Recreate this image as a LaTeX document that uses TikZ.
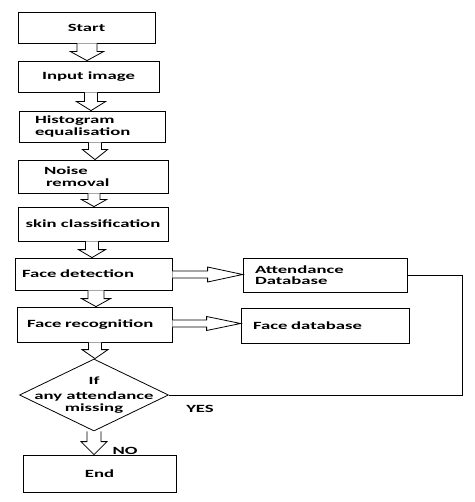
\documentclass[tikz,border=0pt]{standalone}
\usepackage{fontspec}
\newfontfamily\lbl{Carlito}[FakeStretch=1.7]
\usetikzlibrary{shapes.geometric,calc}
\tikzset{
  every node/.style={font=\lbl\bfseries\fontsize{11}{11.5}\selectfont, text=black},
  box/.style={draw=black, line width=0.8pt, inner sep=0pt},
  hollow/.style={draw=black, line width=0.8pt, fill=white, line join=miter},
  conn/.style={draw=black, line width=0.8pt}
}
% vertical hollow arrow: from, to, centre x, shaft half, head half, head length
\newcommand\vflow[6]{%
  \draw[hollow] let \p1=(#1.south), \p2=(#2.north) in
    ({#3pt-#4pt},\y1) -- ({#3pt-#4pt},{\y2+#6pt}) -- ({#3pt-#5pt},{\y2+#6pt})
    -- (#3pt,\y2) -- ({#3pt+#5pt},{\y2+#6pt}) -- ({#3pt+#4pt},{\y2+#6pt})
    -- ({#3pt+#4pt},\y1);}
% horizontal hollow arrow: from, to, centre y (px), shaft half, head half, head length
\newcommand\hflow[6]{%
  \draw[hollow] let \p1=(#1.east), \p2=(#2.west) in
    (\x1,{-#3pt+#4pt}) -- ({\x2-#6pt},{-#3pt+#4pt}) -- ({\x2-#6pt},{-#3pt+#5pt})
    -- (\x2,-#3pt) -- ({\x2-#6pt},{-#3pt-#5pt}) -- ({\x2-#6pt},{-#3pt-#4pt})
    -- (\x1,{-#3pt-#4pt});}
\begin{document}
\begin{tikzpicture}[x=1pt,y=-1pt]
\useasboundingbox (0,0) rectangle (474,502);

\node[box, minimum width=137pt, minimum height=31pt] (start) at (86.5,27.5) {Start};
\node[box, minimum width=141pt, minimum height=31pt] (input) at (88.5,76.5) {Input image};
\node[box, minimum width=146pt, minimum height=31pt, text width=114pt, align=left] (hist) at (92,126.5) {Histogram\\equalisation};
\node[box, minimum width=150pt, minimum height=33pt, text width=98pt, align=left] (noise) at (93,176.5) {Noise\\\hspace*{2pt}removal};
\node[box, minimum width=150pt, minimum height=34pt] (skin) at (93,224) {skin classification};
\node[box, minimum width=157pt, minimum height=32pt, text width=143pt, align=left] (fdet) at (93.5,274) {Face detection};
\node[box, minimum width=155pt, minimum height=35pt, text width=135pt, align=left] (frec) at (94.5,324.5) {Face recognition};
\node[draw=black, line width=0.8pt, diamond, inner sep=0pt, minimum width=149pt, minimum height=72pt,
      label={[align=center]center:{If\\[4pt]any attendance\\missing}}] (dia) at (94,395) {};
\node[box, minimum width=153pt, minimum height=37pt] (end) at (99.5,473.5) {End};
\node[box, minimum width=164pt, minimum height=34pt, text width=140pt, align=left] (attdb) at (325,275) {Attendance\\Database};
\node[box, minimum width=168pt, minimum height=35pt, text width=144pt, align=left] (facedb) at (325,325.5) {Face database};

\node (yes) at (200,409) {YES};
\node (no) at (125,451) {NO};

\vflow{start}{input}{87}{10}{16.5}{9}
\vflow{input}{hist}{91}{6.5}{14.5}{9}
\vflow{hist}{noise}{95}{6.5}{12.5}{10}
\vflow{noise}{skin}{94}{6}{12.5}{7}
\vflow{skin}{fdet}{92}{6.5}{13.5}{8}
\vflow{fdet}{frec}{96}{8}{14.5}{8}
\vflow{frec}{dia}{95}{6.5}{13}{9}
\vflow{dia}{end}{94}{7}{13}{13}

\hflow{fdet}{attdb}{274.5}{3.5}{7.5}{35}
\hflow{frec}{facedb}{323.5}{3.5}{7}{34}

\coordinate (rc) at (462,0);
\draw[conn] (attdb.east) -- (attdb.east -| rc) -- (rc |- dia.east) -- (dia.east);
\end{tikzpicture}
\end{document}
